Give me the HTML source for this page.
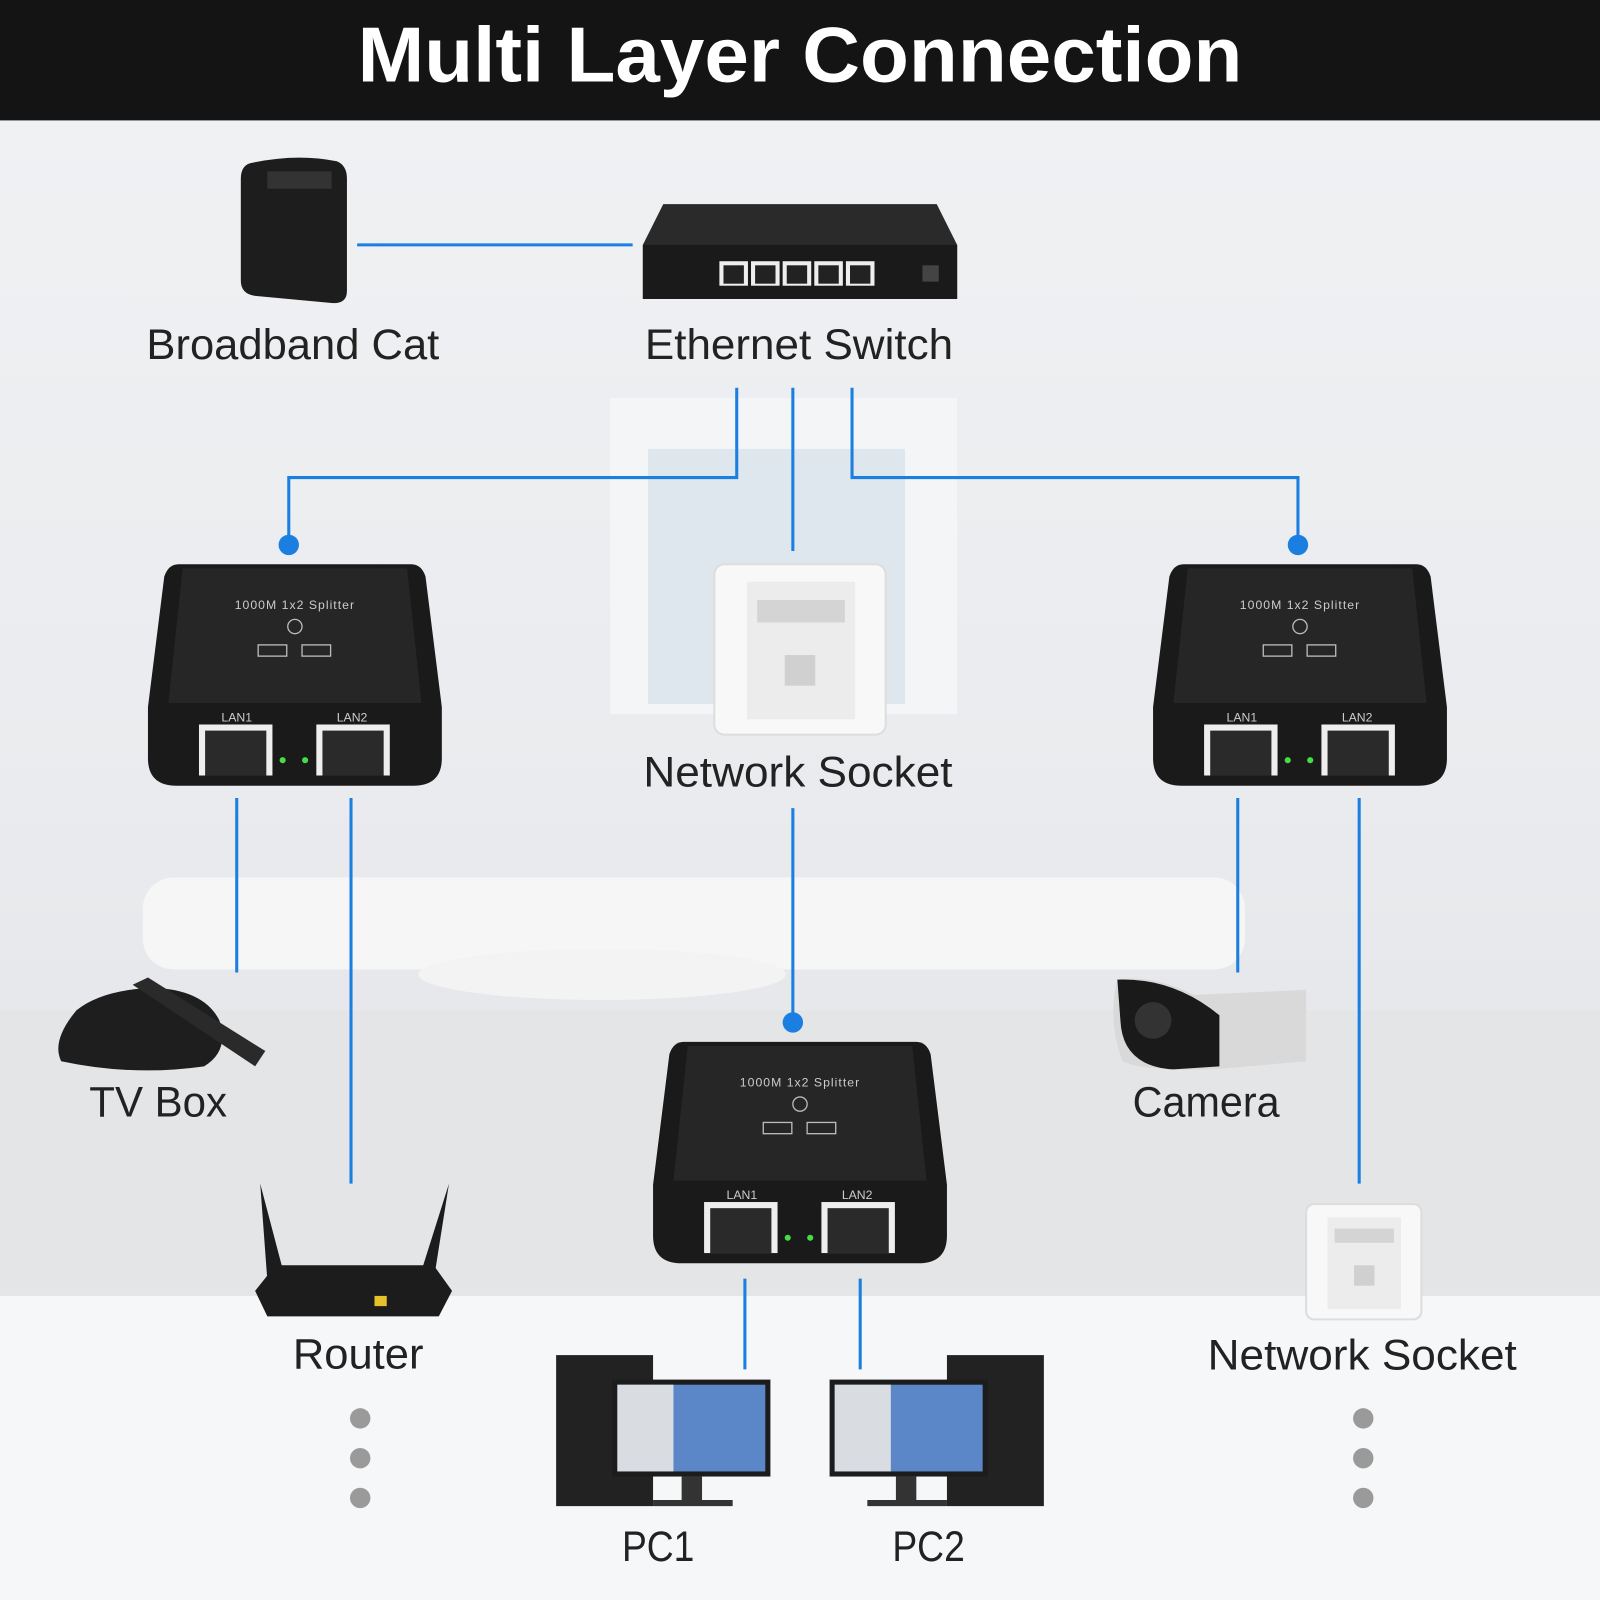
<!DOCTYPE html>
<html><head><style>
html,body{margin:0;padding:0;width:1600px;height:1600px;overflow:hidden;background:#eceef0}
svg{display:block}
text{font-family:"Liberation Sans","DejaVu Sans",sans-serif}
</style></head><body>
<svg width="1600" height="1600" viewBox="0 0 1568 1568" xmlns="http://www.w3.org/2000/svg">
<defs>
<linearGradient id="bg" x1="0" y1="0" x2="0" y2="1">
<stop offset="0" stop-color="#f1f2f4"/><stop offset="0.5" stop-color="#e9ebee"/><stop offset="0.8" stop-color="#e2e4e7"/><stop offset="1" stop-color="#f4f5f6"/>
</linearGradient>
</defs>
<rect width="1568" height="1568" fill="url(#bg)"/>
<rect x="598" y="390" width="340" height="310" fill="#f4f5f7"/>
<rect x="635" y="440" width="252" height="250" fill="#dfe7ee"/>
<rect x="140" y="860" width="1080" height="90" rx="30" fill="#f6f6f7"/>
<rect x="0" y="990" width="1568" height="280" fill="#e4e5e7"/>
<ellipse cx="590" cy="955" rx="180" ry="25" fill="#f3f3f3"/>
<rect x="0" y="1270" width="1568" height="298" fill="#f6f7f8"/>
<rect x="0" y="0" width="1568" height="118" fill="#141414"/>
<text x="784" y="80" text-anchor="middle" font-size="76" font-weight="bold" fill="#fff" textLength="867" lengthAdjust="spacingAndGlyphs">Multi Layer Connection</text>

<g stroke="#1a7fe0" stroke-width="3" fill="none">
<path d="M350 240H620"/>
<path d="M722 380V468H283V533"/>
<path d="M777 380V540"/>
<path d="M835 380V468H1272V533"/>
<path d="M777 792V1000"/>
<path d="M232 782V953M344 782V1160"/>
<path d="M1213 782V953M1332 782V1160"/>
<path d="M730 1253V1342M843 1253V1342"/>
</g>
<g fill="#1a7fe0"><circle cx="283" cy="534" r="10"/><circle cx="1272" cy="534" r="10"/><circle cx="777" cy="1002" r="10"/></g>

<path d="M245 160Q290 150 330 158Q340 162 340 175V285Q340 298 325 297L250 290Q236 288 236 275V175Q236 163 245 160Z" fill="#1d1d1d"/>
<path d="M262 168H325V185H262Z" fill="#333"/>
<path d="M650 200H918L938 240V293H630V240Z" fill="#2a2a2a"/>
<rect x="630" y="240" width="308" height="53" fill="#1a1a1a"/>
<g fill="#eee"><rect x="705" y="256" width="28" height="24"/><rect x="736" y="256" width="28" height="24"/><rect x="767" y="256" width="28" height="24"/><rect x="798" y="256" width="28" height="24"/><rect x="829" y="256" width="28" height="24"/></g>
<g fill="#222"><rect x="709" y="260" width="20" height="18"/><rect x="740" y="260" width="20" height="18"/><rect x="771" y="260" width="20" height="18"/><rect x="802" y="260" width="20" height="18"/><rect x="833" y="260" width="20" height="18"/></g>
<rect x="904" y="260" width="16" height="16" fill="#444"/>

<g font-size="42" fill="#222" text-anchor="middle" lengthAdjust="spacingAndGlyphs">
<text x="287" y="352" textLength="287" lengthAdjust="spacingAndGlyphs">Broadband Cat</text>
<text x="783" y="352" textLength="302" lengthAdjust="spacingAndGlyphs">Ethernet Switch</text>
<text x="782" y="771" textLength="303" lengthAdjust="spacingAndGlyphs">Network Socket</text>
<text x="155" y="1094" textLength="135" lengthAdjust="spacingAndGlyphs">TV Box</text>
<text x="1182" y="1094" textLength="144" lengthAdjust="spacingAndGlyphs">Camera</text>
<text x="351" y="1341" textLength="128" lengthAdjust="spacingAndGlyphs">Router</text>
<text x="1335" y="1342" textLength="303" lengthAdjust="spacingAndGlyphs">Network Socket</text>
<text x="645" y="1530" textLength="71" lengthAdjust="spacingAndGlyphs">PC1</text>
<text x="910" y="1530" textLength="71" lengthAdjust="spacingAndGlyphs">PC2</text>
</g>

<rect x="700" y="553" width="168" height="167" rx="10" fill="#f8f8f8" stroke="#ddd" stroke-width="2"/>
<rect x="732" y="570" width="106" height="135" fill="#ececec"/>
<rect x="742" y="588" width="86" height="22" fill="#d4d4d4"/>
<rect x="769" y="642" width="30" height="30" fill="#d0d0d0"/>
<rect x="1280" y="1180" width="113" height="113" rx="8" fill="#f8f8f8" stroke="#ddd" stroke-width="2"/>
<rect x="1301" y="1193" width="72" height="90" fill="#ececec"/>
<rect x="1308" y="1204" width="58" height="14" fill="#d4d4d4"/>
<rect x="1327" y="1240" width="20" height="20" fill="#d0d0d0"/>

<path d="M60 1040Q50 1020 75 990Q100 970 150 968Q200 970 215 1000Q225 1030 200 1045Q130 1055 60 1040Z" fill="#1e1e1e"/>
<path d="M130 965L145 958L260 1030L250 1045Z" fill="#2a2a2a"/>
<path d="M255 1160L280 1255H262ZM440 1160L425 1255H410Z" fill="#1c1c1c"/>
<path d="M270 1240H425L443 1265L430 1290H262L250 1265Z" fill="#1c1c1c"/>
<rect x="367" y="1270" width="12" height="10" fill="#e5c12a"/>
<path d="M1095 960Q1130 955 1170 975L1280 970V1040L1190 1048Q1120 1050 1100 1040Q1085 1000 1095 960Z" fill="#d9d9d9"/>
<path d="M1095 960Q1150 958 1195 995V1045L1150 1048Q1100 1045 1098 1000Z" fill="#1a1a1a"/>
<circle cx="1130" cy="1000" r="18" fill="#333"/>
<g>
<rect x="545" y="1328" width="95" height="148" fill="#222"/>
<rect x="600" y="1352" width="155" height="95" fill="#1c1c1c"/>
<rect x="605" y="1357" width="145" height="85" fill="#5b86c8"/>
<rect x="605" y="1357" width="55" height="85" fill="#d9dde2"/>
<rect x="668" y="1447" width="20" height="25" fill="#333"/><rect x="640" y="1470" width="78" height="6" fill="#333"/>
</g>
<g>
<rect x="928" y="1328" width="95" height="148" fill="#222"/>
<rect x="813" y="1352" width="155" height="95" fill="#1c1c1c"/>
<rect x="818" y="1357" width="145" height="85" fill="#5b86c8"/>
<rect x="818" y="1357" width="55" height="85" fill="#d9dde2"/>
<rect x="878" y="1447" width="20" height="25" fill="#333"/><rect x="850" y="1470" width="78" height="6" fill="#333"/>
</g>
<g fill="#9a9a9a"><circle cx="353" cy="1390" r="10"/><circle cx="353" cy="1429" r="10"/><circle cx="353" cy="1468" r="10"/>
<circle cx="1336" cy="1390" r="10"/><circle cx="1336" cy="1429" r="10"/><circle cx="1336" cy="1468" r="10"/></g>

<g transform="translate(145,553)">
<path d="M30 0H258Q268 0 272 12L288 140V190Q288 217 260 217H28Q0 217 0 190V140L16 12Q20 0 30 0Z" fill="#1a1a1a"/>
<path d="M34 4H254L268 136H20Z" fill="#262626"/>
<text x="144" y="44" text-anchor="middle" font-size="12" fill="#ccc" letter-spacing="1">1000M 1x2 Splitter</text>
<circle cx="144" cy="61" r="7" fill="none" stroke="#bbb" stroke-width="1.3"/>
<rect x="108" y="79" width="28" height="11" fill="none" stroke="#bbb" stroke-width="1.3"/><rect x="151" y="79" width="28" height="11" fill="none" stroke="#bbb" stroke-width="1.3"/>
<text x="87" y="154" text-anchor="middle" font-size="12" fill="#ccc">LAN1</text><text x="200" y="154" text-anchor="middle" font-size="12" fill="#ccc">LAN2</text>
<rect x="50" y="157" width="72" height="50" fill="#eee"/><rect x="56" y="163" width="60" height="44" fill="#2a2a2a"/>
<rect x="165" y="157" width="72" height="50" fill="#eee"/><rect x="171" y="163" width="60" height="44" fill="#2a2a2a"/>
<circle cx="132" cy="192" r="3" fill="#4d4"/><circle cx="154" cy="192" r="3" fill="#4d4"/>
</g>
<g transform="translate(1130,553)">
<path d="M30 0H258Q268 0 272 12L288 140V190Q288 217 260 217H28Q0 217 0 190V140L16 12Q20 0 30 0Z" fill="#1a1a1a"/>
<path d="M34 4H254L268 136H20Z" fill="#262626"/>
<text x="144" y="44" text-anchor="middle" font-size="12" fill="#ccc" letter-spacing="1">1000M 1x2 Splitter</text>
<circle cx="144" cy="61" r="7" fill="none" stroke="#bbb" stroke-width="1.3"/>
<rect x="108" y="79" width="28" height="11" fill="none" stroke="#bbb" stroke-width="1.3"/><rect x="151" y="79" width="28" height="11" fill="none" stroke="#bbb" stroke-width="1.3"/>
<text x="87" y="154" text-anchor="middle" font-size="12" fill="#ccc">LAN1</text><text x="200" y="154" text-anchor="middle" font-size="12" fill="#ccc">LAN2</text>
<rect x="50" y="157" width="72" height="50" fill="#eee"/><rect x="56" y="163" width="60" height="44" fill="#2a2a2a"/>
<rect x="165" y="157" width="72" height="50" fill="#eee"/><rect x="171" y="163" width="60" height="44" fill="#2a2a2a"/>
<circle cx="132" cy="192" r="3" fill="#4d4"/><circle cx="154" cy="192" r="3" fill="#4d4"/>
</g>
<g transform="translate(640,1021)">
<path d="M30 0H258Q268 0 272 12L288 140V190Q288 217 260 217H28Q0 217 0 190V140L16 12Q20 0 30 0Z" fill="#1a1a1a"/>
<path d="M34 4H254L268 136H20Z" fill="#262626"/>
<text x="144" y="44" text-anchor="middle" font-size="12" fill="#ccc" letter-spacing="1">1000M 1x2 Splitter</text>
<circle cx="144" cy="61" r="7" fill="none" stroke="#bbb" stroke-width="1.3"/>
<rect x="108" y="79" width="28" height="11" fill="none" stroke="#bbb" stroke-width="1.3"/><rect x="151" y="79" width="28" height="11" fill="none" stroke="#bbb" stroke-width="1.3"/>
<text x="87" y="154" text-anchor="middle" font-size="12" fill="#ccc">LAN1</text><text x="200" y="154" text-anchor="middle" font-size="12" fill="#ccc">LAN2</text>
<rect x="50" y="157" width="72" height="50" fill="#eee"/><rect x="56" y="163" width="60" height="44" fill="#2a2a2a"/>
<rect x="165" y="157" width="72" height="50" fill="#eee"/><rect x="171" y="163" width="60" height="44" fill="#2a2a2a"/>
<circle cx="132" cy="192" r="3" fill="#4d4"/><circle cx="154" cy="192" r="3" fill="#4d4"/>
</g>
</svg>
</body></html>
